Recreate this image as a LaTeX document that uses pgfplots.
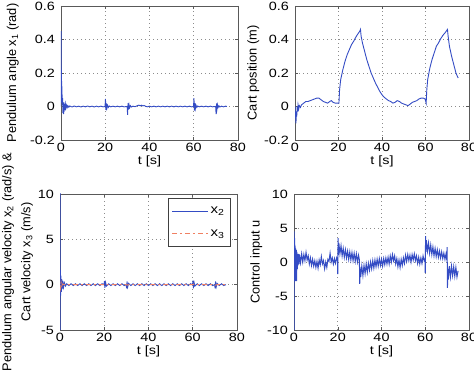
\documentclass[border=0pt]{standalone}
\usepackage{fontspec}
\setmainfont[FakeStretch=1.2]{Liberation Sans}
\newfontfamily\ylfont{Liberation Sans}
\usepackage{pgfplots}
\pgfplotsset{compat=1.18}
\definecolor{mblue}{RGB}{52,76,196}
\definecolor{mred}{RGB}{240,128,98}
\pgfplotsset{
  mstyle/.style={
    scale only axis, anchor=south west,
    xmin=0, xmax=80, xtick={0,20,40,60,80},
    /pgf/number format/assume math mode=true,
    font=\fontsize{12}{14}\selectfont,
    tick label style={font=\fontsize{12}{14}\selectfont},
    yticklabel style={xshift=-2.5pt},
    xlabel style={font=\fontsize{12}{14}\selectfont, yshift=3pt},
    ylabel style={font=\ylfont\fontsize{12.8}{19}\selectfont, rotate=0, anchor=center, align=center},
    axis line style={draw=black!65, line width=0.7pt},
    tick style={draw=black!65, line width=0.5pt},
    tick align=inside, major tick length=3pt,
    grid=major, grid style={dash pattern=on 1pt off 3pt, draw=black!45, line width=0.7pt},
    xlabel={t [s]},
    every axis plot/.append style={line width=0.9pt},
  }
}
\begin{document}
\begin{tikzpicture}
\path[use as bounding box] (0,0) rectangle (474pt,372pt);
% top-left
\begin{axis}[mstyle, at={(61pt,232pt)}, width=177pt, height=134pt,
  ymin=-0.2, ymax=0.6, ytick={-0.2,0,0.2,0.4,0.6},
  yticklabel style={/pgf/number format/fixed, /pgf/number format/precision=1},
  ylabel={Pendulum angle x\textsubscript{1} (rad)},
  ylabel style={at={(axis description cs:-0.272,0.5)}}]
\addplot[mblue] coordinates {
(0,0) (0.04,0.45) (0.12,0.12) (0.2,0.22) (0.3,0.08) (0.4,0.12) (0.55,0.02) (0.7,0.05) (0.85,-0.04) (1.0,0.02)
(1.15,-0.045) (1.3,0.025) (1.45,-0.03) (1.6,0.015) (1.8,-0.02) (2.0,0.012) (2.2,-0.01) (2.5,0.008) (2.8,-0.006)
(3.1,0.005) (3.5,-0.004) (4,0.003) (5,-0.003) (6,0.003) (7,-0.002) (8,0.002) (9,-0.003) (10,0.002) (11,-0.002)
(12,0.003) (13,-0.002) (14,0.002) (15,-0.003) (16,0.002) (17,-0.002) (18,0.002) (19,-0.002) (19.9,0)
(20.1,0.045) (20.3,-0.02) (20.5,0.018) (20.75,-0.01) (21,0.008) (21.4,-0.005) (21.8,0.003) (22.5,-0.002)
(23.5,0.002) (24.5,-0.002) (25.5,0.002) (26.5,-0.002) (27.5,0.002) (28.5,-0.002) (29.9,0)
(30.1,-0.05) (30.3,0.02) (30.5,-0.018) (30.75,0.01) (31,-0.008) (31.4,0.005) (31.8,-0.003) (32.5,0.002)
(33.5,-0.001) (34.5,0.005) (35.2,0.008) (35.8,0.004) (36.4,0.008) (37,0.004) (37.6,0.006) (38.3,0.001)
(39,-0.002) (40,0.002) (41,-0.002) (42,0.002) (43,-0.002) (44,0.002) (45,-0.002) (46,0.002) (47,-0.002)
(48,0.002) (49,-0.002) (50,0.002) (51,-0.002) (52,0.002) (53,-0.002) (54,0.002) (55,-0.002) (56,0.002)
(57,-0.002) (58,0.002) (59,-0.002) (59.9,0)
(60.1,0.05) (60.3,-0.025) (60.5,0.02) (60.75,-0.012) (61,0.008) (61.4,-0.005) (61.8,0.003) (62.5,-0.002)
(63.5,0.002) (64.5,-0.002) (65.5,0.002) (66.5,-0.002) (67.5,0.002) (68.5,-0.002) (69.9,0)
(70.1,-0.045) (70.3,0.018) (70.5,-0.015) (70.75,0.01) (71,-0.006) (71.4,0.004) (71.8,-0.003) (72.5,0.002)
(73.5,-0.002) (74.3,0.002) (75,0)
};
\end{axis}
% top-right
\begin{axis}[mstyle, at={(295pt,232pt)}, width=174pt, height=134pt,
  ymin=-0.2, ymax=0.6, ytick={-0.2,0,0.2,0.4,0.6},
  yticklabel style={/pgf/number format/fixed, /pgf/number format/precision=1},
  ylabel={Cart position (m)},
  ylabel style={at={(axis description cs:-0.24,0.5)}}]
\addplot[mblue] coordinates {
(0,0) (0.2,-0.04) (0.45,-0.1) (0.6,-0.03) (0.8,-0.06) (1.0,0.0) (1.2,-0.03) (1.4,0.01) (1.7,-0.015)
(2,0.005) (2.5,-0.005) (3,0.01) (4,0.02) (5,0.03) (6,0.03) (7,0.035) (8,0.04) (9,0.045) (10,0.05) (11,0.05)
(12,0.04) (13,0.03) (14,0.025) (15,0.02) (16,0.03) (16.7,0.035) (17.5,0.025) (18.5,0.02) (19.5,0.02) (20.2,0.02)
(20.5,0.1) (21,0.16) (22,0.22) (23,0.27) (24,0.31) (25,0.34) (26,0.37) (27,0.39) (28,0.415) (29,0.435)
(29.8,0.45) (30.1,0.46) (30.4,0.42) (31,0.38) (32,0.33) (33,0.28) (34,0.24) (35,0.2) (36,0.17) (37,0.14)
(38,0.115) (39,0.09) (40,0.07) (41,0.055) (42,0.045) (43,0.035) (44,0.03) (45,0.02) (46,0.025) (47,0.035)
(48,0.03) (49,0.02) (50,0.015) (51,0.01) (52,0.005) (53,0.015) (54,0.025) (55,0.03) (56,0.035) (57,0.045)
(58,0.05) (59,0.05) (59.8,0.045) (60.3,0.02) (60.6,0.1) (61,0.16) (62,0.23) (63,0.28) (64,0.32) (65,0.36)
(66,0.38) (67,0.405) (68,0.425) (69,0.44) (69.8,0.455) (70.1,0.46) (70.4,0.42) (71,0.36) (72,0.3) (73,0.25)
(74,0.2) (75,0.17)
};
\end{axis}
% bottom-left
\begin{axis}[mstyle, at={(60pt,42pt)}, width=177pt, height=136pt,
  ymin=-5, ymax=10, ytick={-5,0,5,10},
  ylabel={Pendulum angular velocity x\textsubscript{2} (rad/s) \&\\Cart velocity x\textsubscript{3} (m/s)},
  ylabel style={at={(axis description cs:-0.24,0.5)}},
  legend style={at={(0.965,0.97)}, anchor=north east, draw=black!75, line width=0.5pt,
    font=\fontsize{12.5}{14}\selectfont, row sep=10pt, inner xsep=4pt, inner ysep=7pt},
  legend cell align=left,
  legend image code/.code={\draw[#1] (0pt,0pt) -- (36pt,0pt);}]
\addplot[draw=mblue] coordinates {
(0,0) (0.03,10.5) (0.07,-5.5) (0.12,2) (0.25,-1.2) (0.4,1) (0.6,-0.8) (0.8,0.6) (1,-0.5) (1.3,0.4) (1.6,-0.3)
(2,0.2) (2.5,-0.15) (3,0.1) (4,-0.1) (5,0.1) (6,-0.1) (7,0.1) (8,-0.1) (9,0.1) (10,-0.1) (11,0.1) (12,-0.1)
(13,0.1) (14,-0.1) (15,0.1) (16,-0.1) (17,0.1) (18,-0.1) (19,0.1) (19.9,0) (20.1,0.4) (20.3,-0.35) (20.6,0.25)
(21,-0.15) (22,0.1) (23,-0.1) (24,0.1) (25,-0.1) (26,0.1) (27,-0.1) (28,0.1) (29,-0.1) (29.9,0) (30.1,-0.4)
(30.3,0.35) (30.6,-0.25) (31,0.15) (32,-0.1) (33,0.1) (34,-0.1) (35,0.1) (36,-0.1) (37,0.1) (38,-0.1) (39,0.1)
(40,-0.1) (41,0.1) (42,-0.1) (43,0.1) (44,-0.1) (45,0.1) (46,-0.1) (47,0.1) (48,-0.1) (49,0.1) (50,-0.1)
(51,0.1) (52,-0.1) (53,0.1) (54,-0.1) (55,0.1) (56,-0.1) (57,0.1) (58,-0.1) (59,0.1) (59.9,0) (60.1,0.45)
(60.3,-0.4) (60.6,0.25) (61,-0.15) (62,0.1) (63,-0.1) (64,0.1) (65,-0.1) (66,0.1) (67,-0.1) (68,0.1) (69,-0.1)
(69.9,0) (70.1,-0.4) (70.3,0.35) (70.6,-0.25) (71,0.15) (72,-0.1) (73,0.1) (74,-0.1) (75,0)
};
\addlegendentry{x\textsubscript{2}}
\addplot[draw=mred, dash pattern=on 5pt off 3pt on 2pt off 3pt] coordinates {
(0,0) (0.2,-0.4) (0.5,0.25) (0.8,-0.15) (1.2,0.08) (2,0) (10,0) (19.9,0) (20.3,0.06) (21,0) (30,0) (30.3,-0.06)
(31,0) (40,0) (50,0) (60,0) (60.3,0.06) (61,0) (70,0) (70.3,-0.06) (71,0) (75,0)
};
\addlegendentry{x\textsubscript{3}}
\end{axis}
% bottom-right
\begin{axis}[mstyle, at={(294pt,42pt)}, width=175pt, height=136pt,
  ymin=-10, ymax=10, ytick={-10,-5,0,5,10},
  ylabel={Control input u},
  ylabel style={at={(axis description cs:-0.215,0.5)}}]
\addplot[mblue, line width=1pt] coordinates {
(0,-10) (0.05,4.5) (0.15,-1) (0.25,3.5) (0.35,-2) (0.45,2.5) (0.6,-2.8) (0.75,2) (0.9,-1.5) (1.05,1.8)
(1.2,-2.8) (1.35,1.5) (1.5,-1) (1.7,1.2) (1.9,-0.5) (2.1,1.2) (2.3,-0.3)
(2.5,1.1) (3,-0.1) (3.5,1.2) (4,0.0) (4.5,1.1) (5,0.2) (5.5,1.4) (6,0.3) (6.5,0.9) (7,-0.3) (7.5,0.6) (8,-0.5)
(8.5,0.4) (9,-0.6) (9.5,0.2) (10,-0.8) (10.5,0.1) (11,-0.9) (11.5,0.3) (12,-0.4) (12.5,0.8) (13,-0.3)
(13.5,0.2) (14,-1.0) (14.5,0.0) (15,-0.8) (15.5,0.4) (16,0.1) (16.5,1.3) (17,0.0) (17.5,0.6) (18,-0.3)
(18.5,0.5) (19,-0.2) (19.5,0.6) (19.9,0.2) (20.0,-1.8) (20.15,3.5) (20.3,1.0) (20.5,2.8) (21,1.2) (21.5,2.4)
(22,0.9) (22.5,2.0) (23,0.7) (23.5,1.8) (24,0.6) (24.5,1.6) (25,0.4) (25.5,1.5) (26,0.3) (26.5,1.4) (27,0.2)
(27.5,1.3) (28,0.1) (28.5,1.2) (29,0.0) (29.5,1.0) (29.9,0.3) (30.05,-3.2) (30.2,-0.8) (30.5,-2.2) (31,-0.6)
(31.5,-2.0) (32,-0.5) (32.5,-1.7) (33,-0.3) (33.5,-1.5) (34,-0.2) (34.5,-1.2) (35,0.0) (35.5,-1.0) (36,0.2)
(36.5,-0.9) (37,0.3) (37.5,-0.7) (38,0.4) (38.5,-0.6) (39,0.5) (39.5,-0.5) (40,0.4) (40.5,-0.6) (41,0.5)
(41.5,-0.4) (42,0.6) (42.5,-0.3) (43,0.7) (43.5,-0.3) (44,0.9) (44.5,0.0) (45,1.1) (45.5,0.2) (46,0.9)
(46.5,-0.3) (47,0.5) (47.5,-0.7) (48,0.3) (48.5,-0.8) (49,0.4) (49.5,-0.5) (50,0.6) (50.5,-0.2) (51,1.0)
(51.5,0.1) (52,1.1) (52.5,0.2) (53,1.0) (53.5,0.0) (54,1.1) (54.5,0.3) (55,1.2) (55.5,0.2) (56,0.9)
(56.5,-0.2) (57,0.7) (57.5,-0.3) (58,0.6) (58.5,-0.2) (59,0.9) (59.5,0.2) (59.9,0.5) (60.0,-1.6) (60.15,3.8)
(60.3,1.5) (60.5,3.2) (61,1.6) (61.5,2.8) (62,1.3) (62.5,2.5) (63,1.1) (63.5,2.2) (64,0.9) (64.5,2.0) (65,0.8)
(65.5,1.8) (66,0.7) (66.5,1.6) (67,0.6) (67.5,1.5) (68,0.5) (68.5,1.3) (69,0.4) (69.5,1.2) (69.85,0.3)
(70.0,2.2) (70.15,-3.8) (70.3,-1.0) (70.5,-2.6) (71,-0.6) (71.5,-2.2) (72,-0.6) (72.5,-2.0) (73,-0.7)
(73.5,-2.1) (74,-0.8) (74.5,-2.2) (75,-1.3)
};
\end{axis}
\end{tikzpicture}
\end{document}
